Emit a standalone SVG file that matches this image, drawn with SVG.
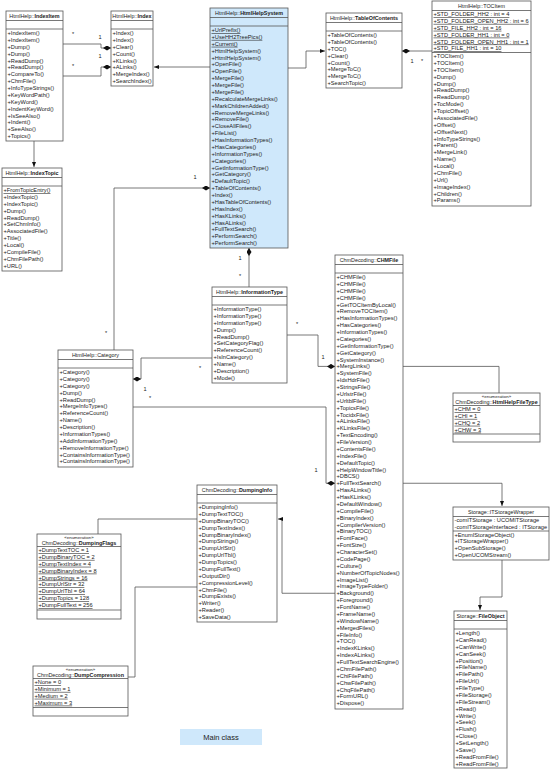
<svg xmlns="http://www.w3.org/2000/svg" width="550" height="770" viewBox="0 0 550 770">
<style>
.box{fill:#fff;stroke:#555;stroke-width:0.8}
.main{fill:#cfe8fb}
.sep{stroke:#555;stroke-width:0.8}
text{font-family:"Liberation Sans",Arial,sans-serif;fill:#222}
.m{font-size:5.7px}
.ttl{font-size:5.4px;text-anchor:middle}
.st{font-size:4.4px;text-anchor:middle}
.b{font-weight:bold}
.u{text-decoration:underline}
.ln{fill:none;stroke:#555;stroke-width:0.8}
.lbl{font-size:5.6px;text-anchor:middle}
</style>
<defs>
<marker id="dia" markerUnits="userSpaceOnUse" markerWidth="8" markerHeight="5" refX="8" refY="2.5" orient="auto" viewBox="0 0 8 5"><path d="M0,2.5 L4,0 L8,2.5 L4,5 Z" fill="#111"/></marker>
<marker id="arr" markerUnits="userSpaceOnUse" markerWidth="5" markerHeight="4" refX="5" refY="2" orient="auto" viewBox="0 0 5 4"><path d="M0,0 L5,2 L0,4 Z" fill="#111"/></marker>
</defs>

<g id="connectors">
<path class="ln" d="M63,44 H101 V48 H111" marker-end="url(#dia)"/>
<path class="ln" d="M63,76 H101 V67 H111" marker-end="url(#dia)"/>
<path class="ln" d="M210,67 H154" marker-end="url(#arr)"/>
<path class="ln" d="M34,141 V167" marker-end="url(#arr)"/>
<path class="ln" d="M288,68 H306 V51 H325" marker-end="url(#arr)"/>
<path class="ln" d="M432,51 H402" marker-end="url(#dia)"/>
<path class="ln" d="M114,350 V188 H210" marker-end="url(#dia)"/>
<path class="ln" d="M249,287 V248" marker-end="url(#dia)"/>
<path class="ln" d="M212,358 H141 V379 H133" marker-end="url(#dia)"/>
<path class="ln" d="M287,335 H318 V366.4 H335" marker-end="url(#dia)"/>
<path class="ln" d="M133,407 H326 V483.25 H335" marker-end="url(#dia)"/>
<path class="ln" d="M403,366.4 H499 V393"/>
<path class="ln" d="M403,483.25 H502 V506" marker-end="url(#arr)"/>
<path class="ln" d="M502,560 V597 H480 V610" marker-end="url(#arr)"/>
<path class="ln" d="M335,593.25 H282 V519 H278" marker-end="url(#arr)"/>
<path class="ln" d="M197,519 H98 V534"/>
<path class="ln" d="M197,587 H135 V677 H128"/>
<text class="lbl" x="73" y="36">*</text>
<text class="lbl" x="100" y="39">1</text>
<text class="lbl" x="100" y="58">1</text>
<text class="lbl" x="73" y="68">*</text>
<text class="lbl" x="195" y="179">1</text>
<text class="lbl" x="106" y="335">*</text>
<text class="lbl" x="240" y="260">1</text>
<text class="lbl" x="240" y="278">*</text>
<text class="lbl" x="412" y="63">1</text>
<text class="lbl" x="422" y="63">*</text>
<text class="lbl" x="200" y="370">*</text>
<text class="lbl" x="145" y="390.5">1</text>
<text class="lbl" x="150" y="400">*</text>
<text class="lbl" x="297" y="326">*</text>
<text class="lbl" x="323" y="359">1</text>
<text class="lbl" x="316" y="472">1</text>
</g>

<g id="IndexItem">
<rect class="box" x="6" y="11" width="57" height="130"/>
<text class="ttl" x="34.5" y="18">HtmlHelp::<tspan class="b">IndexItem</tspan></text>
<line class="sep" x1="6" y1="20.5" x2="63" y2="20.5"/><line class="sep" x1="6" y1="29" x2="63" y2="29"/>
<text class="m" x="7.5" y="35"><tspan x="7.5">+IndexItem()</tspan><tspan x="7.5" dy="6.875">+IndexItem()</tspan><tspan x="7.5" dy="6.875">+Dump()</tspan><tspan x="7.5" dy="6.875">+Dump()</tspan><tspan x="7.5" dy="6.875">+ReadDump()</tspan><tspan x="7.5" dy="6.875">+ReadDump()</tspan><tspan x="7.5" dy="6.875">+CompareTo()</tspan><tspan x="7.5" dy="6.875">+ChmFile()</tspan><tspan x="7.5" dy="6.875">+InfoTypeStrings()</tspan><tspan x="7.5" dy="6.875">+KeyWordPath()</tspan><tspan x="7.5" dy="6.875">+KeyWord()</tspan><tspan x="7.5" dy="6.875">+IndentKeyWord()</tspan><tspan x="7.5" dy="6.875">+IsSeeAlso()</tspan><tspan x="7.5" dy="6.875">+Indent()</tspan><tspan x="7.5" dy="6.875">+SeeAlso()</tspan><tspan x="7.5" dy="6.875">+Topics()</tspan></text>
</g>

<g id="Index">
<rect class="box" x="111" y="11" width="42" height="75"/>
<text class="ttl" x="132" y="18">HtmlHelp::<tspan class="b">Index</tspan></text>
<line class="sep" x1="111" y1="20.5" x2="153" y2="20.5"/><line class="sep" x1="111" y1="29" x2="153" y2="29"/>
<text class="m" x="112.5" y="35"><tspan x="112.5">+Index()</tspan><tspan x="112.5" dy="6.875">+Index()</tspan><tspan x="112.5" dy="6.875">+Clear()</tspan><tspan x="112.5" dy="6.875">+Count()</tspan><tspan x="112.5" dy="6.875">+KLinks()</tspan><tspan x="112.5" dy="6.875">+ALinks()</tspan><tspan x="112.5" dy="6.875">+MergeIndex()</tspan><tspan x="112.5" dy="6.875">+SearchIndex()</tspan></text>
</g>

<g id="HtmlHelpSystem">
<rect class="box main" x="210" y="8" width="78" height="240"/>
<text class="ttl" x="249" y="15">HtmlHelp::<tspan class="b">HtmlHelpSystem</tspan></text>
<line class="sep" x1="210" y1="17.5" x2="288" y2="17.5"/><line class="sep" x1="210" y1="26" x2="288" y2="26"/>
<text class="m" x="211.5" y="32"><tspan x="211.5" class="u">+UrlPrefix()</tspan><tspan x="211.5" dy="6.875" class="u">+UseHH2TreePics()</tspan><tspan x="211.5" dy="6.875" class="u">+Current()</tspan><tspan x="211.5" dy="6.875">+HtmlHelpSystem()</tspan><tspan x="211.5" dy="6.875">+HtmlHelpSystem()</tspan><tspan x="211.5" dy="6.875">+OpenFile()</tspan><tspan x="211.5" dy="6.875">+OpenFile()</tspan><tspan x="211.5" dy="6.875">+MergeFile()</tspan><tspan x="211.5" dy="6.875">+MergeFile()</tspan><tspan x="211.5" dy="6.875">+MergeFile()</tspan><tspan x="211.5" dy="6.875">+RecalculateMergeLinks()</tspan><tspan x="211.5" dy="6.875">+MarkChildrenAdded()</tspan><tspan x="211.5" dy="6.875">+RemoveMergeLinks()</tspan><tspan x="211.5" dy="6.875">+RemoveFile()</tspan><tspan x="211.5" dy="6.875">+CloseAllFiles()</tspan><tspan x="211.5" dy="6.875">+FileList()</tspan><tspan x="211.5" dy="6.875">+HasInformationTypes()</tspan><tspan x="211.5" dy="6.875">+HasCategories()</tspan><tspan x="211.5" dy="6.875">+InformationTypes()</tspan><tspan x="211.5" dy="6.875">+Categories()</tspan><tspan x="211.5" dy="6.875">+GetInformationType()</tspan><tspan x="211.5" dy="6.875">+GetCategory()</tspan><tspan x="211.5" dy="6.875">+DefaultTopic()</tspan><tspan x="211.5" dy="6.875">+TableOfContents()</tspan><tspan x="211.5" dy="6.875">+Index()</tspan><tspan x="211.5" dy="6.875">+HasTableOfContents()</tspan><tspan x="211.5" dy="6.875">+HasIndex()</tspan><tspan x="211.5" dy="6.875">+HasKLinks()</tspan><tspan x="211.5" dy="6.875">+HasALinks()</tspan><tspan x="211.5" dy="6.875">+FullTextSearch()</tspan><tspan x="211.5" dy="6.875">+PerformSearch()</tspan><tspan x="211.5" dy="6.875">+PerformSearch()</tspan></text>
</g>

<g id="TableOfContents">
<rect class="box" x="326" y="13" width="76" height="75"/>
<text class="ttl" x="364" y="20">HtmlHelp::<tspan class="b">TableOfContents</tspan></text>
<line class="sep" x1="326" y1="22.5" x2="402" y2="22.5"/><line class="sep" x1="326" y1="31" x2="402" y2="31"/>
<text class="m" x="327.5" y="37"><tspan x="327.5">+TableOfContents()</tspan><tspan x="327.5" dy="6.875">+TableOfContents()</tspan><tspan x="327.5" dy="6.875">+TOC()</tspan><tspan x="327.5" dy="6.875">+Clear()</tspan><tspan x="327.5" dy="6.875">+Count()</tspan><tspan x="327.5" dy="6.875">+MergeToC()</tspan><tspan x="327.5" dy="6.875">+MergeToC()</tspan><tspan x="327.5" dy="6.875">+SearchTopic()</tspan></text>
</g>

<g id="TOCItem">
<rect class="box" x="432" y="1" width="99" height="205"/>
<text class="ttl" x="481.5" y="8">HtmlHelp::TOCItem</text>
<line class="sep" x1="432" y1="10.5" x2="531" y2="10.5"/><line class="sep" x1="432" y1="52.5" x2="531" y2="52.5"/>
<text class="m u" x="433.5" y="16"><tspan x="433.5">+STD_FOLDER_HH2 : int = 4</tspan><tspan x="433.5" dy="6.875">+STD_FOLDER_OPEN_HH2 : int = 6</tspan><tspan x="433.5" dy="6.875">+STD_FILE_HH2 : int = 16</tspan><tspan x="433.5" dy="6.875">+STD_FOLDER_HH1 : int = 0</tspan><tspan x="433.5" dy="6.875">+STD_FOLDER_OPEN_HH1 : int = 1</tspan><tspan x="433.5" dy="6.875">+STD_FILE_HH1 : int = 10</tspan></text>
<text class="m" x="433.5" y="58"><tspan x="433.5">+TOCItem()</tspan><tspan x="433.5" dy="6.875">+TOCItem()</tspan><tspan x="433.5" dy="6.875">+TOCItem()</tspan><tspan x="433.5" dy="6.875">+Dump()</tspan><tspan x="433.5" dy="6.875">+Dump()</tspan><tspan x="433.5" dy="6.875">+ReadDump()</tspan><tspan x="433.5" dy="6.875">+ReadDump()</tspan><tspan x="433.5" dy="6.875">+TocMode()</tspan><tspan x="433.5" dy="6.875">+TopicOffset()</tspan><tspan x="433.5" dy="6.875">+AssociatedFile()</tspan><tspan x="433.5" dy="6.875">+Offset()</tspan><tspan x="433.5" dy="6.875">+OffsetNext()</tspan><tspan x="433.5" dy="6.875">+InfoTypeStrings()</tspan><tspan x="433.5" dy="6.875">+Parent()</tspan><tspan x="433.5" dy="6.875">+MergeLink()</tspan><tspan x="433.5" dy="6.875">+Name()</tspan><tspan x="433.5" dy="6.875">+Local()</tspan><tspan x="433.5" dy="6.875">+ChmFile()</tspan><tspan x="433.5" dy="6.875">+Url()</tspan><tspan x="433.5" dy="6.875">+ImageIndex()</tspan><tspan x="433.5" dy="6.875">+Children()</tspan><tspan x="433.5" dy="6.875">+Params()</tspan></text>
</g>

<g id="IndexTopic">
<rect class="box" x="2" y="168" width="60" height="103"/>
<text class="ttl" x="32" y="175">HtmlHelp::<tspan class="b">IndexTopic</tspan></text>
<line class="sep" x1="2" y1="177.5" x2="62" y2="177.5"/><line class="sep" x1="2" y1="186" x2="62" y2="186"/>
<text class="m" x="3.5" y="192"><tspan x="3.5" class="u">+FromTopicEntry()</tspan><tspan x="3.5" dy="6.875">+IndexTopic()</tspan><tspan x="3.5" dy="6.875">+IndexTopic()</tspan><tspan x="3.5" dy="6.875">+Dump()</tspan><tspan x="3.5" dy="6.875">+ReadDump()</tspan><tspan x="3.5" dy="6.875">+SetChmInfo()</tspan><tspan x="3.5" dy="6.875">+AssociatedFile()</tspan><tspan x="3.5" dy="6.875">+Title()</tspan><tspan x="3.5" dy="6.875">+Local()</tspan><tspan x="3.5" dy="6.875">+CompileFile()</tspan><tspan x="3.5" dy="6.875">+ChmFilePath()</tspan><tspan x="3.5" dy="6.875">+URL()</tspan></text>
</g>

<g id="InformationType">
<rect class="box" x="212" y="287" width="75" height="96"/>
<text class="ttl" x="249.5" y="294">HtmlHelp::<tspan class="b">InformationType</tspan></text>
<line class="sep" x1="212" y1="296.5" x2="287" y2="296.5"/><line class="sep" x1="212" y1="305" x2="287" y2="305"/>
<text class="m" x="213.5" y="311"><tspan x="213.5">+InformationType()</tspan><tspan x="213.5" dy="6.875">+InformationType()</tspan><tspan x="213.5" dy="6.875">+InformationType()</tspan><tspan x="213.5" dy="6.875">+Dump()</tspan><tspan x="213.5" dy="6.875">+ReadDump()</tspan><tspan x="213.5" dy="6.875">+SetCategoryFlag()</tspan><tspan x="213.5" dy="6.875">+ReferenceCount()</tspan><tspan x="213.5" dy="6.875">+IsInCategory()</tspan><tspan x="213.5" dy="6.875">+Name()</tspan><tspan x="213.5" dy="6.875">+Description()</tspan><tspan x="213.5" dy="6.875">+Mode()</tspan></text>
</g>

<g id="Category">
<rect class="box" x="58" y="350" width="75" height="117"/>
<text class="ttl" x="95.5" y="357">HtmlHelp::Category</text>
<line class="sep" x1="58" y1="359.5" x2="133" y2="359.5"/><line class="sep" x1="58" y1="368" x2="133" y2="368"/>
<text class="m" x="59.5" y="374"><tspan x="59.5">+Category()</tspan><tspan x="59.5" dy="6.875">+Category()</tspan><tspan x="59.5" dy="6.875">+Category()</tspan><tspan x="59.5" dy="6.875">+Dump()</tspan><tspan x="59.5" dy="6.875">+ReadDump()</tspan><tspan x="59.5" dy="6.875">+MergeInfoTypes()</tspan><tspan x="59.5" dy="6.875">+ReferenceCount()</tspan><tspan x="59.5" dy="6.875">+Name()</tspan><tspan x="59.5" dy="6.875">+Description()</tspan><tspan x="59.5" dy="6.875">+InformationTypes()</tspan><tspan x="59.5" dy="6.875">+AddInformationType()</tspan><tspan x="59.5" dy="6.875">+RemoveInformationType()</tspan><tspan x="59.5" dy="6.875">+ContainsInformationType()</tspan><tspan x="59.5" dy="6.875">+ContainsInformationType()</tspan></text>
</g>

<g id="CHMFile">
<rect class="box" x="335" y="255" width="68" height="454"/>
<text class="ttl" x="369" y="262">ChmDecoding::<tspan class="b">CHMFile</tspan></text>
<line class="sep" x1="335" y1="264.5" x2="403" y2="264.5"/><line class="sep" x1="335" y1="273" x2="403" y2="273"/>
<text class="m" x="336.5" y="279"><tspan x="336.5">+CHMFile()</tspan><tspan x="336.5" dy="6.875">+CHMFile()</tspan><tspan x="336.5" dy="6.875">+CHMFile()</tspan><tspan x="336.5" dy="6.875">+CHMFile()</tspan><tspan x="336.5" dy="6.875">+GetTOCItemByLocal()</tspan><tspan x="336.5" dy="6.875">+RemoveTOCItem()</tspan><tspan x="336.5" dy="6.875">+HasInformationTypes()</tspan><tspan x="336.5" dy="6.875">+HasCategories()</tspan><tspan x="336.5" dy="6.875">+InformationTypes()</tspan><tspan x="336.5" dy="6.875">+Categories()</tspan><tspan x="336.5" dy="6.875">+GetInformationType()</tspan><tspan x="336.5" dy="6.875">+GetCategory()</tspan><tspan x="336.5" dy="6.875">+SystemInstance()</tspan><tspan x="336.5" dy="6.875">+MergLinks()</tspan><tspan x="336.5" dy="6.875">+SystemFile()</tspan><tspan x="336.5" dy="6.875">+IdxHdrFile()</tspan><tspan x="336.5" dy="6.875">+StringsFile()</tspan><tspan x="336.5" dy="6.875">+UrlstrFile()</tspan><tspan x="336.5" dy="6.875">+UrltblFile()</tspan><tspan x="336.5" dy="6.875">+TopicsFile()</tspan><tspan x="336.5" dy="6.875">+TocidxFile()</tspan><tspan x="336.5" dy="6.875">+ALinksFile()</tspan><tspan x="336.5" dy="6.875">+KLinksFile()</tspan><tspan x="336.5" dy="6.875">+TextEncoding()</tspan><tspan x="336.5" dy="6.875">+FileVersion()</tspan><tspan x="336.5" dy="6.875">+ContentsFile()</tspan><tspan x="336.5" dy="6.875">+IndexFile()</tspan><tspan x="336.5" dy="6.875">+DefaultTopic()</tspan><tspan x="336.5" dy="6.875">+HelpWindowTitle()</tspan><tspan x="336.5" dy="6.875">+DBCS()</tspan><tspan x="336.5" dy="6.875">+FullTextSearch()</tspan><tspan x="336.5" dy="6.875">+HasALinks()</tspan><tspan x="336.5" dy="6.875">+HasKLinks()</tspan><tspan x="336.5" dy="6.875">+DefaultWindow()</tspan><tspan x="336.5" dy="6.875">+CompileFile()</tspan><tspan x="336.5" dy="6.875">+BinaryIndex()</tspan><tspan x="336.5" dy="6.875">+CompilerVersion()</tspan><tspan x="336.5" dy="6.875">+BinaryTOC()</tspan><tspan x="336.5" dy="6.875">+FontFace()</tspan><tspan x="336.5" dy="6.875">+FontSize()</tspan><tspan x="336.5" dy="6.875">+CharacterSet()</tspan><tspan x="336.5" dy="6.875">+CodePage()</tspan><tspan x="336.5" dy="6.875">+Culture()</tspan><tspan x="336.5" dy="6.875">+NumberOfTopicNodes()</tspan><tspan x="336.5" dy="6.875">+ImageList()</tspan><tspan x="336.5" dy="6.875">+ImageTypeFolder()</tspan><tspan x="336.5" dy="6.875">+Background()</tspan><tspan x="336.5" dy="6.875">+Foreground()</tspan><tspan x="336.5" dy="6.875">+FontName()</tspan><tspan x="336.5" dy="6.875">+FrameName()</tspan><tspan x="336.5" dy="6.875">+WindowName()</tspan><tspan x="336.5" dy="6.875">+MergedFiles()</tspan><tspan x="336.5" dy="6.875">+FileInfo()</tspan><tspan x="336.5" dy="6.875">+TOC()</tspan><tspan x="336.5" dy="6.875">+IndexKLinks()</tspan><tspan x="336.5" dy="6.875">+IndexALinks()</tspan><tspan x="336.5" dy="6.875">+FullTextSearchEngine()</tspan><tspan x="336.5" dy="6.875">+ChmFilePath()</tspan><tspan x="336.5" dy="6.875">+ChiFilePath()</tspan><tspan x="336.5" dy="6.875">+ChwFilePath()</tspan><tspan x="336.5" dy="6.875">+ChqFilePath()</tspan><tspan x="336.5" dy="6.875">+FormURL()</tspan><tspan x="336.5" dy="6.875">+Dispose()</tspan></text>
</g>

<g id="DumpingInfo">
<rect class="box" x="197" y="485" width="80" height="137"/>
<text class="ttl" x="237" y="492">ChmDecoding::<tspan class="b">DumpingInfo</tspan></text>
<line class="sep" x1="197" y1="494.5" x2="277" y2="494.5"/><line class="sep" x1="197" y1="503" x2="277" y2="503"/>
<text class="m" x="198.5" y="509"><tspan x="198.5">+DumpingInfo()</tspan><tspan x="198.5" dy="6.875">+DumpTextTOC()</tspan><tspan x="198.5" dy="6.875">+DumpBinaryTOC()</tspan><tspan x="198.5" dy="6.875">+DumpTextIndex()</tspan><tspan x="198.5" dy="6.875">+DumpBinaryIndex()</tspan><tspan x="198.5" dy="6.875">+DumpStrings()</tspan><tspan x="198.5" dy="6.875">+DumpUrlStr()</tspan><tspan x="198.5" dy="6.875">+DumpUrlTbl()</tspan><tspan x="198.5" dy="6.875">+DumpTopics()</tspan><tspan x="198.5" dy="6.875">+DumpFullText()</tspan><tspan x="198.5" dy="6.875">+OutputDir()</tspan><tspan x="198.5" dy="6.875">+CompressionLevel()</tspan><tspan x="198.5" dy="6.875">+ChmFile()</tspan><tspan x="198.5" dy="6.875">+DumpExists()</tspan><tspan x="198.5" dy="6.875">+Writer()</tspan><tspan x="198.5" dy="6.875">+Reader()</tspan><tspan x="198.5" dy="6.875">+SaveData()</tspan></text>
</g>

<g id="DumpingFlags">
<rect class="box" x="37" y="534" width="84" height="85"/>
<text class="st" x="79" y="539">«enumeration»</text>
<text class="ttl" x="79" y="544.5">ChmDecoding::<tspan class="b">DumpingFlags</tspan></text>
<line class="sep" x1="37" y1="546.5" x2="121" y2="546.5"/><line class="sep" x1="37" y1="610" x2="121" y2="610"/>
<text class="m u" x="38.5" y="552"><tspan x="38.5">+DumpTextTOC = 1</tspan><tspan x="38.5" dy="6.875">+DumpBinaryTOC = 2</tspan><tspan x="38.5" dy="6.875">+DumpTextIndex = 4</tspan><tspan x="38.5" dy="6.875">+DumpBinaryIndex = 8</tspan><tspan x="38.5" dy="6.875">+DumpStrings = 16</tspan><tspan x="38.5" dy="6.875">+DumpUrlStr = 32</tspan><tspan x="38.5" dy="6.875">+DumpUrlTbl = 64</tspan><tspan x="38.5" dy="6.875">+DumpTopics = 128</tspan><tspan x="38.5" dy="6.875">+DumpFullText = 256</tspan></text>
</g>

<g id="DumpCompression">
<rect class="box" x="33" y="666" width="95" height="50"/>
<text class="st" x="80.5" y="671">«enumeration»</text>
<text class="ttl" x="80.5" y="676.5">ChmDecoding::<tspan class="b">DumpCompression</tspan></text>
<line class="sep" x1="33" y1="678.5" x2="128" y2="678.5"/><line class="sep" x1="33" y1="707.5" x2="128" y2="707.5"/>
<text class="m u" x="34.5" y="684"><tspan x="34.5">+None = 0</tspan><tspan x="34.5" dy="6.875">+Minimum = 1</tspan><tspan x="34.5" dy="6.875">+Medium = 2</tspan><tspan x="34.5" dy="6.875">+Maximum = 3</tspan></text>
</g>

<g id="HtmlHelpFileType">
<rect class="box" x="453" y="393" width="87" height="49"/>
<text class="st" x="496.5" y="398">«enumeration»</text>
<text class="ttl" x="496.5" y="403.5">ChmDecoding::<tspan class="b">HtmlHelpFileType</tspan></text>
<line class="sep" x1="453" y1="405.5" x2="540" y2="405.5"/><line class="sep" x1="453" y1="434" x2="540" y2="434"/>
<text class="m u" x="454.5" y="411"><tspan x="454.5">+CHM = 0</tspan><tspan x="454.5" dy="6.875">+CHI = 1</tspan><tspan x="454.5" dy="6.875">+CHQ = 2</tspan><tspan x="454.5" dy="6.875">+CHW = 3</tspan></text>
</g>

<g id="ITStorageWrapper">
<rect class="box" x="453" y="507" width="96" height="53"/>
<text class="ttl" x="501" y="514">Storage::ITStorageWrapper</text>
<line class="sep" x1="453" y1="516.5" x2="549" y2="516.5"/><line class="sep" x1="453" y1="531" x2="549" y2="531"/>
<text class="m" x="454.5" y="522"><tspan x="454.5">-comITStorage : UCOMITStorage</tspan><tspan x="454.5" dy="6.875">-comITStorageInterfaced : ITStorage</tspan></text>
<text class="m" x="454.5" y="536.5"><tspan x="454.5">+EnumIStorageObject()</tspan><tspan x="454.5" dy="6.875">+ITStorageWrapper()</tspan><tspan x="454.5" dy="6.875">+OpenSubStorage()</tspan><tspan x="454.5" dy="6.875">+OpenUCOMStream()</tspan></text>
</g>

<g id="FileObject">
<rect class="box" x="454" y="611" width="53" height="157"/>
<text class="ttl" x="480.5" y="618">Storage::<tspan class="b">FileObject</tspan></text>
<line class="sep" x1="454" y1="620.5" x2="507" y2="620.5"/><line class="sep" x1="454" y1="629" x2="507" y2="629"/>
<text class="m" x="455.5" y="635"><tspan x="455.5">+Length()</tspan><tspan x="455.5" dy="6.875">+CanRead()</tspan><tspan x="455.5" dy="6.875">+CanWrite()</tspan><tspan x="455.5" dy="6.875">+CanSeek()</tspan><tspan x="455.5" dy="6.875">+Position()</tspan><tspan x="455.5" dy="6.875">+FileName()</tspan><tspan x="455.5" dy="6.875">+FilePath()</tspan><tspan x="455.5" dy="6.875">+FileUrl()</tspan><tspan x="455.5" dy="6.875">+FileType()</tspan><tspan x="455.5" dy="6.875">+FileStorage()</tspan><tspan x="455.5" dy="6.875">+FileStream()</tspan><tspan x="455.5" dy="6.875">+Read()</tspan><tspan x="455.5" dy="6.875">+Write()</tspan><tspan x="455.5" dy="6.875">+Seek()</tspan><tspan x="455.5" dy="6.875">+Flush()</tspan><tspan x="455.5" dy="6.875">+Close()</tspan><tspan x="455.5" dy="6.875">+SetLength()</tspan><tspan x="455.5" dy="6.875">+Save()</tspan><tspan x="455.5" dy="6.875">+ReadFromFile()</tspan><tspan x="455.5" dy="6.875">+ReadFromFile()</tspan></text>
</g>

<g id="MainClassLabel">
<rect class="main" x="180" y="729" width="82" height="16"/>
<text x="221" y="739.7" style="font-size:7.5px;text-anchor:middle">Main class</text>
</g>
</svg>
